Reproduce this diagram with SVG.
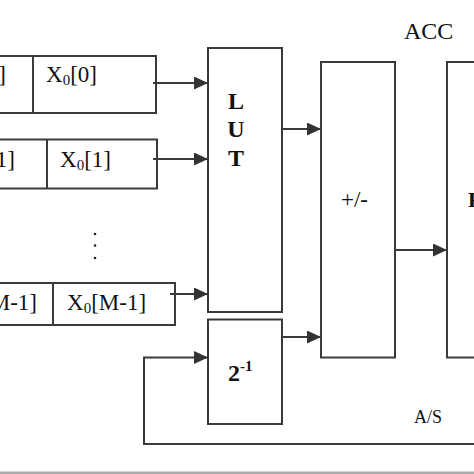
<svg xmlns="http://www.w3.org/2000/svg" width="474" height="474" viewBox="0 0 474 474">
<defs>
<marker id="ah" markerUnits="userSpaceOnUse" markerWidth="14" markerHeight="14" refX="14" refY="6.5" orient="auto">
<path d="M0,0 L14,6.5 L0,13 z" fill="#333"/>
</marker>
<style>
.box{fill:#fff;stroke:#3a3a3a;stroke-width:2}
.ln{fill:none;stroke:#3a3a3a;stroke-width:2}
.t{font-family:"Liberation Serif","Times New Roman",serif;fill:#111}
.b{font-family:"Liberation Serif","Times New Roman",serif;font-weight:bold;fill:#111}
</style>
</defs>
<rect x="0" y="0" width="474" height="474" fill="#fff"/>
<rect x="0" y="471.5" width="474" height="2.5" fill="#aaa"/>

<g id="in0">
<rect class="box" x="-60" y="56" width="216" height="57"/>
<line class="ln" x1="33" y1="56" x2="33" y2="113"/>
<text class="t" x="6" y="82" font-size="23" text-anchor="end">]</text>
<text class="t" x="46" y="82" font-size="23">X<tspan font-size="15" dy="3">0</tspan><tspan dy="-3">[0]</tspan></text>
</g>
<g id="in1">
<rect class="box" x="-60" y="139.5" width="217" height="49"/>
<line class="ln" x1="47" y1="139.5" x2="47" y2="188.5"/>
<text class="t" x="15" y="167" font-size="23" text-anchor="end">1]</text>
<text class="t" x="60" y="167" font-size="23">X<tspan font-size="15" dy="3">0</tspan><tspan dy="-3">[1]</tspan></text>
</g>
<g id="dots">
<circle cx="95" cy="234" r="1.3" fill="#222"/>
<circle cx="95" cy="245.5" r="1.3" fill="#222"/>
<circle cx="95" cy="258" r="1.3" fill="#222"/>
</g>
<g id="inM">
<rect class="box" x="-60" y="283" width="235" height="42"/>
<line class="ln" x1="53" y1="283" x2="53" y2="325"/>
<text class="t" x="37" y="310" font-size="23" text-anchor="end">M-1]</text>
<text class="t" x="67" y="310" font-size="23">X<tspan font-size="15" dy="3">0</tspan><tspan dy="-3">[M-1]</tspan></text>
</g>

<g id="lut">
<rect class="box" x="208" y="48" width="74" height="264"/>
<text class="b" x="236" y="109" font-size="24" text-anchor="middle">L</text>
<text class="b" x="236" y="137" font-size="24" text-anchor="middle">U</text>
<text class="b" x="236" y="166" font-size="24" text-anchor="middle">T</text>
</g>
<g id="half">
<rect class="box" x="208" y="319.5" width="74" height="104.5"/>
<text class="b" x="228" y="381" font-size="24">2<tspan font-size="15" dy="-10">-1</tspan></text>
</g>
<g id="addsub">
<rect class="box" x="321" y="62" width="74" height="295.5"/>
<text class="t" x="341" y="207" font-size="23">+/-</text>
</g>
<g id="acc">
<rect class="box" x="447" y="62" width="80" height="295.5"/>
<text class="b" x="468" y="207" font-size="22">R</text>
<text class="t" x="404" y="39" font-size="24">ACC</text>
</g>
<g id="as">
<text class="t" x="414" y="423" font-size="18">A/S</text>
</g>

<g id="connectors">
<line class="ln" x1="153" y1="83" x2="208" y2="83" marker-end="url(#ah)"/>
<line class="ln" x1="153" y1="159" x2="208" y2="159" marker-end="url(#ah)"/>
<line class="ln" x1="170" y1="294" x2="208" y2="294" marker-end="url(#ah)"/>
<line class="ln" x1="282" y1="129" x2="321" y2="129" marker-end="url(#ah)"/>
<line class="ln" x1="282" y1="337" x2="321" y2="337" marker-end="url(#ah)"/>
<line class="ln" x1="395" y1="250" x2="447" y2="250" marker-end="url(#ah)"/>
<polyline class="ln" points="480,444 144,444 144,357.5 208,357.5" marker-end="url(#ah)"/>
</g>
</svg>
